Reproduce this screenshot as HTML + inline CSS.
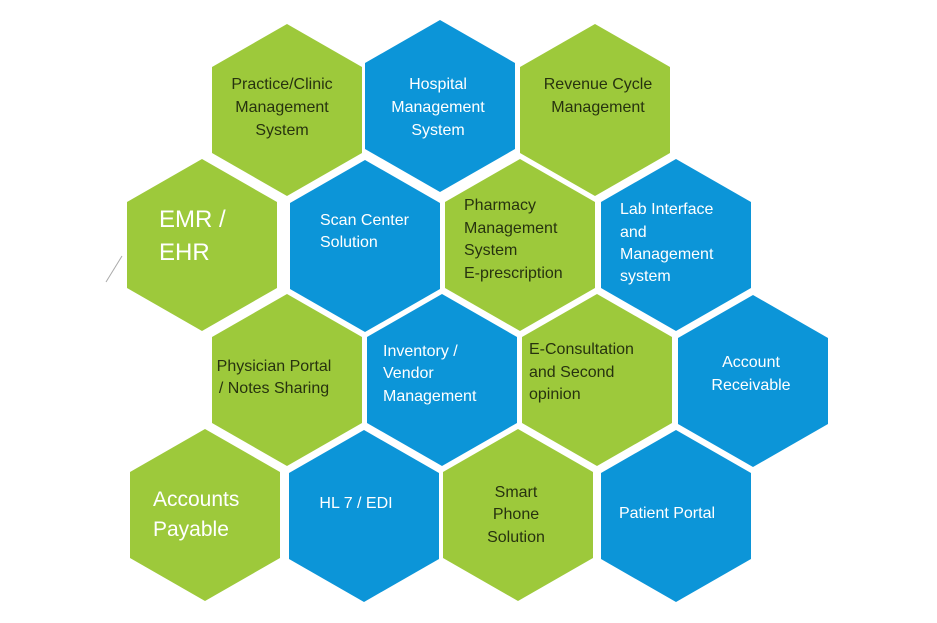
<!DOCTYPE html>
<html><head><meta charset="utf-8"><style>
html,body{margin:0;padding:0;background:#fff;}
svg{display:block;}
text{font-family:"Liberation Sans",sans-serif;font-size:16px;}
.d{fill:#27330f;}
.w{fill:#fff;}
</style></head><body>
<svg width="937" height="623" viewBox="0 0 937 623" xmlns="http://www.w3.org/2000/svg">
<defs>
<polygon id="h" points="0,-86 75,-43 75,43 0,86 -75,43 -75,-43"/>
</defs>
<g>
<use href="#h" x="287" y="110" fill="#9dc93b"/>
<use href="#h" x="440" y="106" fill="#0c95d8"/>
<use href="#h" x="595" y="110" fill="#9dc93b"/>
<use href="#h" x="202" y="245" fill="#9dc93b"/>
<use href="#h" x="365" y="246" fill="#0c95d8"/>
<use href="#h" x="520" y="245" fill="#9dc93b"/>
<use href="#h" x="676" y="245" fill="#0c95d8"/>
<use href="#h" x="287" y="380" fill="#9dc93b"/>
<use href="#h" x="442" y="380" fill="#0c95d8"/>
<use href="#h" x="597" y="380" fill="#9dc93b"/>
<use href="#h" x="753" y="381" fill="#0c95d8"/>
<use href="#h" x="205" y="515" fill="#9dc93b"/>
<use href="#h" x="364" y="516" fill="#0c95d8"/>
<use href="#h" x="518" y="515" fill="#9dc93b"/>
<use href="#h" x="676" y="516" fill="#0c95d8"/>
</g>
<line x1="106" y1="282" x2="122" y2="256" stroke="#aaa" stroke-width="1"/>
<g class="d" text-anchor="middle">
<text x="282" y="89">Practice/Clinic</text><text x="282" y="112">Management</text><text x="282" y="135">System</text>
<text x="598" y="89">Revenue  Cycle</text><text x="598" y="112">Management</text>
<text x="274" y="371">Physician Portal</text><text x="274" y="393">/ Notes Sharing</text>
<text x="516" y="497">Smart</text><text x="516" y="519">Phone</text><text x="516" y="542">Solution</text>
</g>
<g class="d">
<text x="464" y="210">Pharmacy</text><text x="464" y="233">Management</text><text x="464" y="255">System</text><text x="464" y="278">E-prescription</text>
<text x="529" y="354">E-Consultation</text><text x="529" y="377">and Second</text><text x="529" y="399">opinion</text>
</g>
<g class="w" text-anchor="middle">
<text x="438" y="89">Hospital</text><text x="438" y="112">Management</text><text x="438" y="135">System</text>
<text x="751" y="367">Account</text><text x="751" y="390">Receivable</text>
<text x="356" y="508">HL 7 / EDI</text>
<text x="667" y="518">Patient Portal</text>
</g>
<g class="w">
<text x="320" y="225">Scan Center</text><text x="320" y="247">Solution</text>
<text x="620" y="214">Lab Interface</text><text x="620" y="237">and</text><text x="620" y="259">Management</text><text x="620" y="281">system</text>
<text x="383" y="356">Inventory /</text><text x="383" y="378">Vendor</text><text x="383" y="401">Management</text>
<text x="159" y="227" style="font-size:24px">EMR /</text><text x="159" y="260" style="font-size:24px">EHR</text>
<text x="153" y="506" style="font-size:21px">Accounts</text><text x="153" y="536" style="font-size:21px">Payable</text>
</g>
</svg>
</body></html>
